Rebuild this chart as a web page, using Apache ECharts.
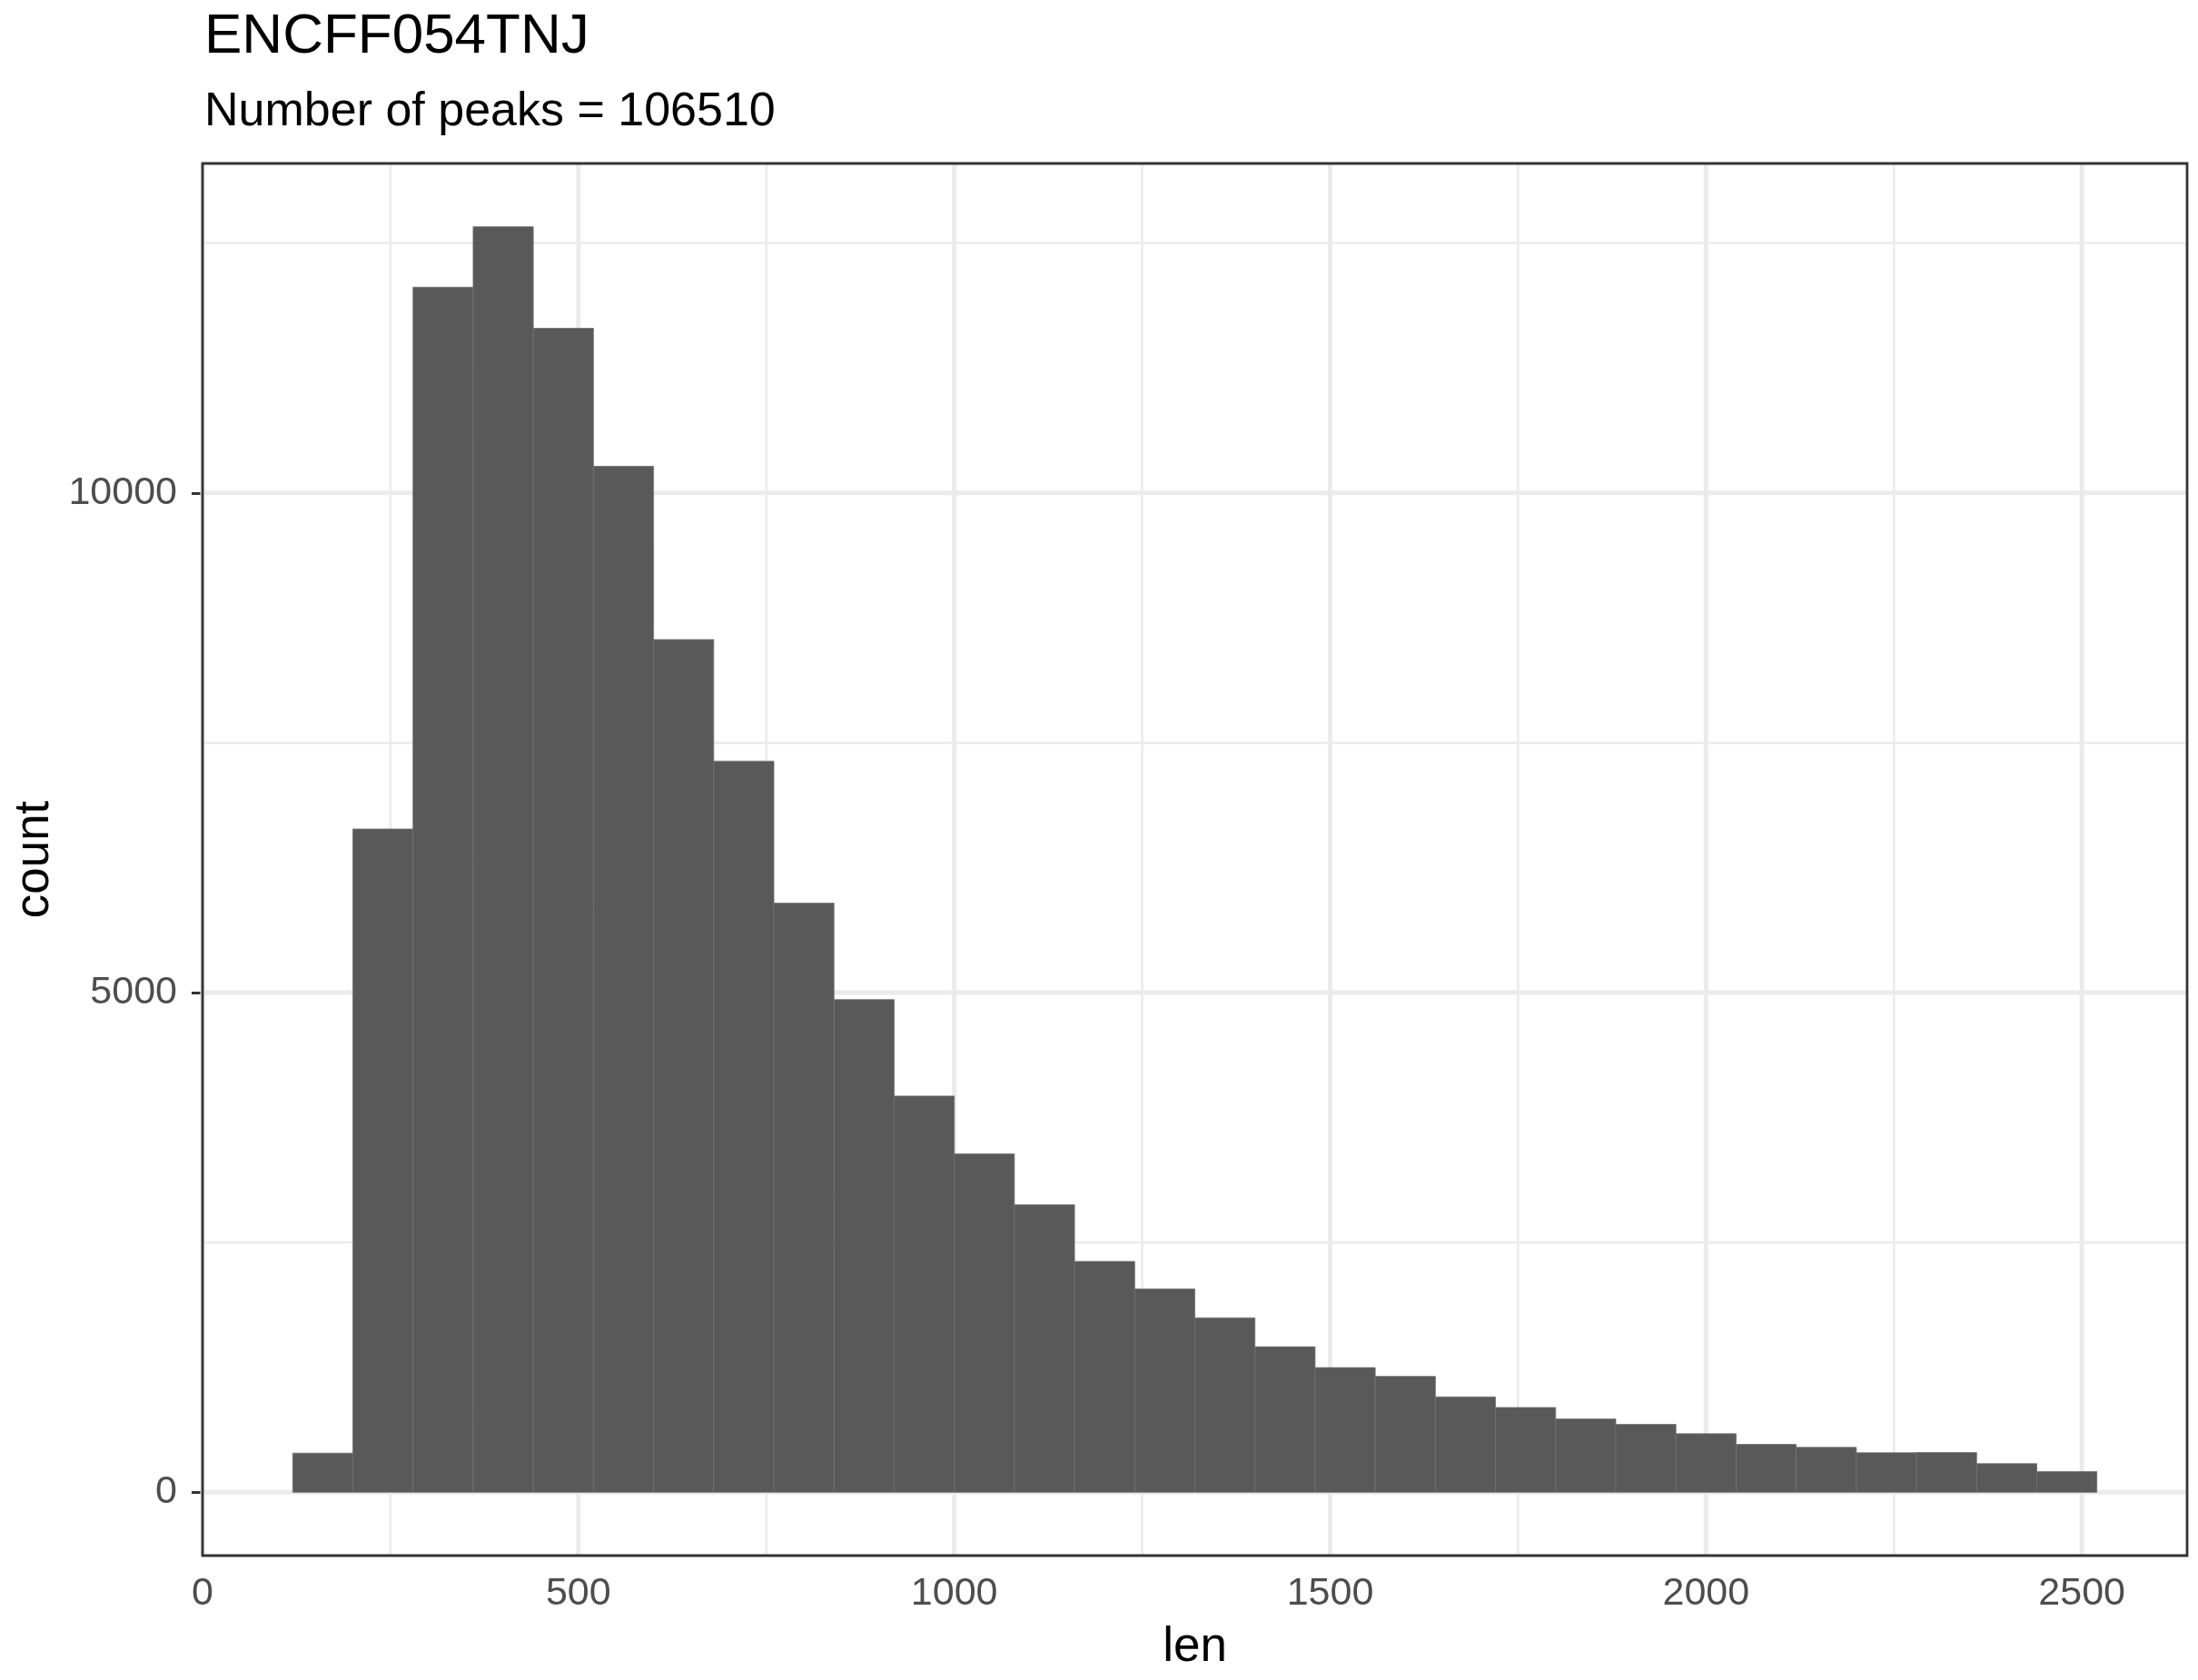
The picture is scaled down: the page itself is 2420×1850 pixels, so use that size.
<!doctype html>
<html>
<head>
    <meta charset="utf-8">
    <title>ENCFF054TNJ</title>
    <style>
        html, body { margin: 0; padding: 0; background: #fff; }
        #chart { width: 2420px; height: 1850px; }
    </style>
</head>
<body>
<div id="chart"></div>
<script src="https://cdn.jsdelivr.net/npm/echarts@6/dist/echarts.min.js"></script>
<script>
    // histogram bins (len) and counts
    var binEdges = [120, 200, 280, 360, 440, 520, 600, 680, 760, 840, 920, 1000, 1080, 1160, 1240,
        1320, 1400, 1480, 1560, 1640, 1720, 1800, 1880, 1960, 2040, 2120, 2200, 2280, 2360, 2440, 2520];
    var counts = [392, 6637, 12058, 12663, 11647, 10266, 8532, 7316, 5895, 4930, 3965, 3386, 2877, 2310, 2035,
        1746, 1456, 1248, 1160, 955, 849, 734, 680, 586, 480, 450, 396, 398, 287, 208];

    // axis breaks
    var xMajor = [0, 500, 1000, 1500, 2000, 2500];
    var xMinor = [250, 750, 1250, 1750, 2250];
    var yMajor = [0, 5000, 10000];
    var yMinor = [2500, 7500, 12500];

    var titleText = 'ENCFF054TNJ';
    var subtitleText = 'Number of peaks = 106510';

    var FONT = "'Liberation Sans', Arial, Helvetica, sans-serif";

    var chart = echarts.init(document.getElementById('chart'));

    // gridline drawer: vertical or horizontal line through the whole panel
    function gridLine(vertical, width) {
        return function (params, api) {
            var cs = params.coordSys;
            if (vertical) {
                var x = api.coord([api.value(0), 0])[0];
                return {type: 'line', shape: {x1: x, y1: cs.y, x2: x, y2: cs.y + cs.height},
                    style: {stroke: '#EBEBEB', lineWidth: width}};
            }
            var y = api.coord([0, api.value(1)])[1];
            return {type: 'line', shape: {x1: cs.x, y1: y, x2: cs.x + cs.width, y2: y},
                style: {stroke: '#EBEBEB', lineWidth: width}};
        };
    }

    function plain(v) { return String(v); }

    var bars = binEdges.slice(0, -1).map(function (e, i) {
        return [e, binEdges[i + 1], counts[i]];
    });

    var option = {
        backgroundColor: '#fff',
        animation: false,
        title: [{
            text: titleText,
            left: 225, top: 10, padding: 0,
            textStyle: {fontFamily: FONT, fontSize: 62, fontWeight: 'normal', color: '#000'}
        }, {
            text: subtitleText,
            left: 225, top: 98, padding: 0,
            textStyle: {fontFamily: FONT, fontSize: 52, fontWeight: 'normal', color: '#000'}
        }],
        grid: {left: 223, top: 180, width: 2185, height: 1533, containLabel: false, outerBoundsMode: 'none'},
        xAxis: {
            type: 'value', min: 0, max: 2640,
            name: 'len', nameLocation: 'middle', nameGap: 75,
            nameTextStyle: {fontFamily: FONT, fontSize: 53, color: '#000'},
            axisLine: {show: false},
            axisTick: {show: true, length: 12, customValues: xMajor, lineStyle: {color: '#333', width: 3}},
            axisLabel: {customValues: xMajor, formatter: plain, margin: 21, fontFamily: FONT, fontSize: 43, color: '#4D4D4D'},
            splitLine: {show: false}
        },
        yAxis: {
            type: 'value', min: -633, max: 13296,
            name: 'count', nameLocation: 'middle', nameGap: 157, nameRotate: 90,
            nameTextStyle: {fontFamily: FONT, fontSize: 53, color: '#000'},
            axisLine: {show: false},
            axisTick: {show: true, length: 12, customValues: yMajor, lineStyle: {color: '#333', width: 3}},
            axisLabel: {customValues: yMajor, formatter: plain, margin: 28, fontFamily: FONT, fontSize: 43, color: '#4D4D4D'},
            splitLine: {show: false}
        },
        series: [{
            type: 'custom', z: 1, silent: true, clip: false,
            renderItem: gridLine(true, 2.5),
            data: xMinor.map(function (v) { return [v, 0]; })
        }, {
            type: 'custom', z: 1, silent: true, clip: false,
            renderItem: gridLine(false, 2.5),
            data: yMinor.map(function (v) { return [0, v]; })
        }, {
            type: 'custom', z: 1, silent: true, clip: false,
            renderItem: gridLine(true, 5),
            data: xMajor.map(function (v) { return [v, 0]; })
        }, {
            type: 'custom', z: 1, silent: true, clip: false,
            renderItem: gridLine(false, 5),
            data: yMajor.map(function (v) { return [0, v]; })
        }, {
            // histogram bars
            type: 'custom', z: 2,
            encode: {x: [0, 1], y: 2},
            renderItem: function (params, api) {
                var p0 = api.coord([api.value(0), api.value(2)]);
                var p1 = api.coord([api.value(1), 0]);
                return {
                    type: 'rect',
                    shape: {x: p0[0], y: p0[1], width: p1[0] - p0[0], height: p1[1] - p0[1]},
                    style: {fill: '#595959', stroke: '#707070', lineWidth: 0.8}
                };
            },
            data: bars
        }, {
            // panel border on top
            type: 'custom', z: 5, silent: true, clip: false,
            renderItem: function (params, api) {
                var cs = params.coordSys;
                return {type: 'rect', shape: {x: cs.x, y: cs.y, width: cs.width, height: cs.height},
                    style: {fill: 'none', stroke: '#333333', lineWidth: 2.8}};
            },
            data: [[0, 0]]
        }]
    };
    chart.setOption(option);
</script>
</body>
</html>
